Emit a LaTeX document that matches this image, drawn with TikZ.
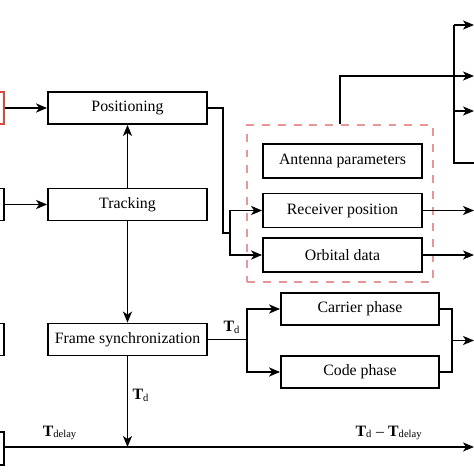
\documentclass[tikz,border=0pt]{standalone}
\usepackage{fontspec}
\setmainfont{Liberation Serif}
\usetikzlibrary{arrows.meta}
\definecolor{srcred}{RGB}{222,72,52}
\definecolor{grppink}{RGB}{232,150,150}

\begin{document}
\begin{tikzpicture}[scale=0.2, line width=1pt, font=\fontsize{9}{11}\selectfont,
  >={Stealth[length=2.2mm,width=1.8mm,inset=0.6mm]}]
\tikzstyle{every node}+=[inner sep=0pt]
\tikzstyle{box}=[draw, minimum width=3.18cm, minimum height=0.64cm]
\tikzstyle{stub}=[draw, minimum width=3.18cm, minimum height=0.64cm]
\useasboundingbox (0,0) rectangle (47.4,-47.4);

% cut-off boxes on the left edge
\draw (-7.55,-10.8) node [stub, draw=srcred] (src1) {};
\draw (-7.55,-20.45) node [stub] (src2) {};
\draw (-7.55,-33.95) node [stub] (src3) {};
\draw (-7.55,-44.85) node [stub, minimum height=0.66cm] (src4) {};

\draw (12.75,-10.8) node [box] (pos) {Positioning};
\draw (12.75,-20.45) node [box] (trk) {Tracking};
\draw (12.75,-33.95) node [box] (frm) {Frame synchronization};

\draw (34,-20.35) node [draw=grppink, line width=0.8pt, dash pattern=on 4.5pt off 4.5pt,
  minimum width=3.72cm, minimum height=3.14cm] (grp) {};
\draw (34.25,-16.1) node [box, minimum height=0.68cm] (ant) {Antenna parameters};
\draw (34.25,-21.05) node [box, minimum height=0.68cm] (rcv) {Receiver position};
\draw (34.25,-25.5) node [box, minimum height=0.68cm] (orb) {Orbital data};

\draw (36,-30.9) node [box, minimum width=3.16cm] (car) {Carrier phase};
\draw (36,-37.2) node [box, minimum width=3.16cm] (cod) {Code phase};

\coordinate (edge) at (47.4,0);
\coordinate (rb) at (23,-23.3);
\coordinate (fs) at (24.7,-33.95);
\coordinate (mg) at (45.2,-34.05);
\coordinate (tr) at (45.4,-16.3);
\coordinate (bus) at (12.75,-44.7);

\draw [black,->] (src1.east) -- (pos.west);
\draw [black,->] (src2.east) -- (trk.west);
\draw [black,->] (trk.north) -- (pos.south);
\draw [black,->] (trk.south) -- (frm.north);

\draw [black] (pos.east) -| (22.3,-23.3) -- (rb);
\draw [black,->] (rb) |- (rcv.west);
\draw [black,->] (rb) |- (orb.west);
\draw [black,->] (rcv.east) -- (rcv.east -| edge);
\draw [black,->] (orb.east) -- (orb.east -| edge);

\draw [black,->] (grp.north) |- (47.4,-7.6);
\draw [black] (tr -| edge) -- (tr) -- (45.4,-2.5);
\draw [black,->] (45.4,-2.5) -- (47.4,-2.5);
\draw [black,->] (45.4,-11.1) -- (47.4,-11.1);

\draw [black] (frm.east) -- (fs);
\draw [black,->] (fs) |- (car.west);
\draw [black,->] (fs) |- (cod.west);
\draw [black] (car.east) -| (mg);
\draw [black] (cod.east) -| (mg);
\draw [black,->] (mg) -- (mg -| edge);
\draw (23.2,-32.7) node {\textbf{T}\textsubscript{d}};

\draw [black,->] (frm.south) -- (bus);
\draw (14.1,-39.5) node {\textbf{T}\textsubscript{d}};
\draw [black,->] (src4.east |- bus) -- (bus -| edge);
\draw (6.0,-43.3) node {\textbf{T}\textsubscript{delay}};
\draw (38.9,-43.3) node {\textbf{T}\textsubscript{d} -- \textbf{T}\textsubscript{delay}};
\end{tikzpicture}
\end{document}
